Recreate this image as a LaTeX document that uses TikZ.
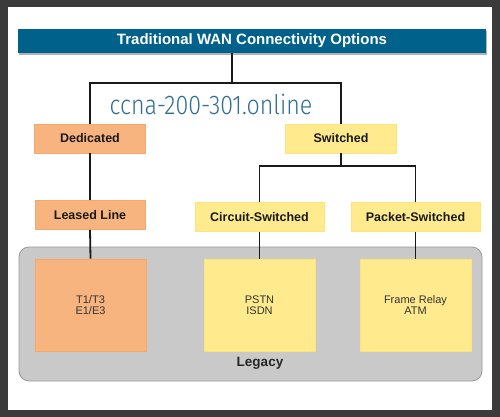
\documentclass[tikz,border=0pt]{standalone}
\usepackage{fontspec}
\setmainfont{Liberation Sans}
\newfontfamily\wmfont{Fira Sans Light}
\definecolor{frame}{HTML}{3B3B3B}
\definecolor{titleblue}{HTML}{00618A}
\definecolor{orfill}{HTML}{F8B47E}
\definecolor{ordraw}{HTML}{F6A86C}
\definecolor{yefill}{HTML}{FFEA8E}
\definecolor{yedraw}{HTML}{FFE27A}
\definecolor{legfill}{HTML}{C9C9C9}
\definecolor{legdraw}{HTML}{999999}
\definecolor{wmblue}{HTML}{2F6E93}
\begin{document}
\begin{tikzpicture}[x=1pt,y=-1pt,
  conn/.style={line width=1.8pt,draw=black!90},
  catbox/.style={minimum height=29pt,inner sep=0pt,font=\fontsize{12.5}{14}\selectfont\bfseries,text=black!90},
  orbox/.style={fill=orfill,draw=ordraw,line width=0.8pt},
  yebox/.style={fill=yefill,draw=yedraw,line width=0.8pt},
  leafbox/.style={minimum width=111pt,minimum height=92pt,inner sep=0pt,align=center,font=\fontsize{11}{11.5}\selectfont,text=black!80}]
\useasboundingbox (0,0) rectangle (500,417);
\fill[frame] (0,0) rectangle (500,417);
\fill[white] (8,7) rectangle (492,410);
% title
\fill[black!60,opacity=0.5] (19,31) rectangle (487,55);
\node[fill=titleblue,minimum width=468pt,minimum height=24pt,inner sep=0pt,text=white,font=\fontsize{15}{17}\selectfont\bfseries] (title) at (252,41) {Traditional WAN Connectivity Options};
% legacy
\node[fill=legfill,draw=legdraw,line width=0.8pt,rounded corners=10pt,minimum width=463pt,minimum height=134pt,inner sep=0pt] (legacy) at (250.5,314) {};
\node[font=\fontsize{13.5}{15}\selectfont\bfseries,text=black!85] (legtxt) at (260,363) {Legacy};
% categories
\node[catbox,orbox,minimum width=111pt] (ded) at (90,138.5) {Dedicated};
\node[catbox,yebox,minimum width=111pt] (sw) at (341,138.5) {Switched};
\node[catbox,orbox,minimum width=110pt] (lease) at (90,215) {Leased Line};
\node[catbox,yebox,minimum width=129pt] (circ) at (259.5,217) {Circuit-Switched};
\node[catbox,yebox,minimum width=129pt] (pack) at (415.5,217) {Packet-Switched};
% leaves
\node[leafbox,orbox] (t1) at (90.5,305) {T1/T3\\[-1pt]E1/E3};
\node[leafbox,yebox] (pstn) at (259.5,305) {PSTN\\[-1pt]ISDN};
\node[leafbox,yebox] (fr) at (415.5,305) {Frame Relay\\[-1pt]ATM};
% connectors
\coordinate (j1) at (232,83);
\coordinate (j2) at (341,166);
\draw[conn] (title.south -| j1) -- (j1);
\draw[conn] (ded.north) |- (j1) -| (sw.north);
\draw[conn] (sw.south) -- (j2);
\draw[conn] (circ.north) |- (j2) -| (pack.north);
\draw[conn] (lease.north) -- (lease.north |- ded.south);
\draw[conn] (lease.south) -- (t1.north);
\draw[conn] (circ.south) -- (pstn.north);
\draw[conn] (pack.south) -- (fr.north);
% watermark
\node[text=wmblue,font=\wmfont\fontsize{27}{29}\selectfont,xscale=0.86,inner sep=0pt] (wm) at (211,104) {ccna-200-301.online};
\end{tikzpicture}
\end{document}
